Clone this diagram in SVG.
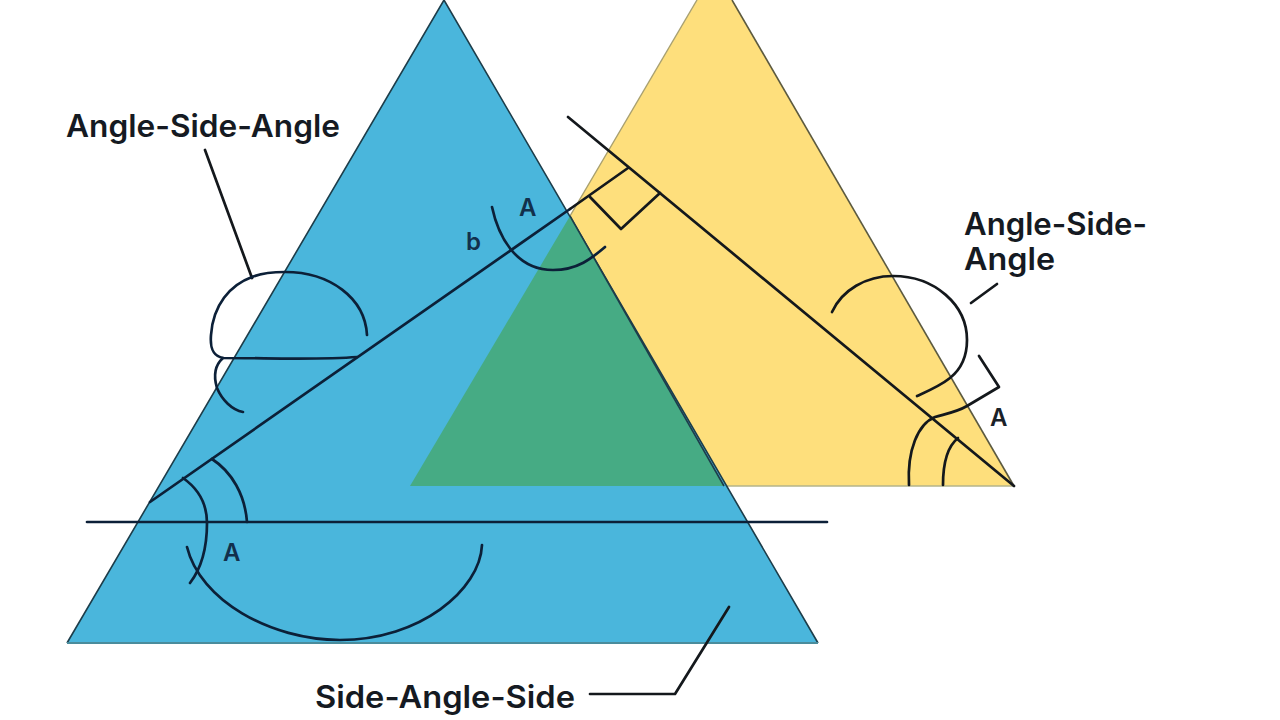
<svg xmlns="http://www.w3.org/2000/svg" width="1280" height="720" viewBox="0 0 1280 720">
<style>
.l{fill:none;stroke:#0c2038;stroke-width:2.7;stroke-linecap:round;stroke-linejoin:round}
.k{stroke:#14181c}
.e{fill:none;stroke:#1d3d4a;stroke-width:1.6}
.t{font-family:Inter,"Liberation Sans",sans-serif;font-weight:600;font-size:31px;fill:#151a22}
.s{font-family:Inter,"Liberation Sans",sans-serif;font-weight:600;font-size:24px;fill:#12304c}
</style>
<rect width="1280" height="720" fill="#fff"/>
<g id="triangle-yellow"><polygon points="715,-30 410,486 1014,486" fill="#fedf7c"/><path d="M697,0L570,216" fill="none" stroke="#a8a070" stroke-width="1.4"/><path d="M732,0L1014,486" fill="none" stroke="#5c5a40" stroke-width="1.6"/><path d="M410,486H1014" stroke="#b5b48a" stroke-width="1.4"/></g>
<g id="triangle-blue"><polygon points="444,0 67,643 818,643" fill="#4ab6dc"/><path class="e" d="M67,643L444,0L818,643"/><path d="M67,643H818" stroke="#4a8c9c" stroke-width="2"/></g>
<g id="overlap"><polygon points="570,216 410,486 724,486" fill="#46ab84"/><path class="e" d="M570,216L724,486"/></g>
<g id="connectors">
<path class="l" d="M150,502L570,209"/>
<path class="l k" d="M570,209L628,168"/>
<path class="l k" d="M568,117L1014,486"/>
<path class="l" d="M87,522H827"/>
<path class="l k" d="M590,197L621,229L660,193"/>
<path class="l" d="M492,207C498,235 515,270 553,270C578,270 592,258 605,247"/>
<path class="l k" d="M832,312C842,290 866,276 893,276C935,276 967,305 967,340C967,358 960,370 950,378C940,386 928,391 917,396"/>
<path class="l k" d="M979,356L999,387L967,406C957,412 945,414 935,417C918,424 907,450 909,485"/>
<path class="l k" d="M958,438C948,446 943,462 943,485"/>
<path class="l k" d="M971,303L997,284"/>
<path class="l k" d="M205,150L252,278"/>
<path class="l" d="M252,277C262,273 273,272 285,272C330,272 365,298 367,335"/>
<path class="l" d="M357,357C320,360 270,358 223,358C212,356 210,347 211,335C213,305 230,285 252,277"/>
<path class="l" d="M223,358C214,366 214,378 217,388C222,400 232,410 243,412"/>
<path class="l" d="M183,478C200,490 207,505 207,523C207,550 200,570 190,583"/>
<path class="l" d="M212,459C232,472 245,495 247,522"/>
<path class="l" d="M187,547C200,600 270,640 340,640C420,640 480,590 482,545"/>
<path class="l k" d="M590,694H675L729,607"/>
</g>
<g id="labels">
<text class="t" x="66" y="137" textLength="274" lengthAdjust="spacingAndGlyphs">Angle-Side-Angle</text>
<text class="t" x="964" y="235" textLength="183" lengthAdjust="spacingAndGlyphs">Angle-Side-</text>
<text class="t" x="964" y="270" textLength="91" lengthAdjust="spacingAndGlyphs">Angle</text>
<text class="t" x="315" y="708" textLength="260" lengthAdjust="spacingAndGlyphs">Side-Angle-Side</text>
<text class="s" x="519" y="216">A</text>
<text class="s" x="466" y="250">b</text>
<text class="s" x="223" y="561">A</text>
<text class="s" x="990" y="426" style="fill:#1a2128">A</text>
</g>
</svg>
